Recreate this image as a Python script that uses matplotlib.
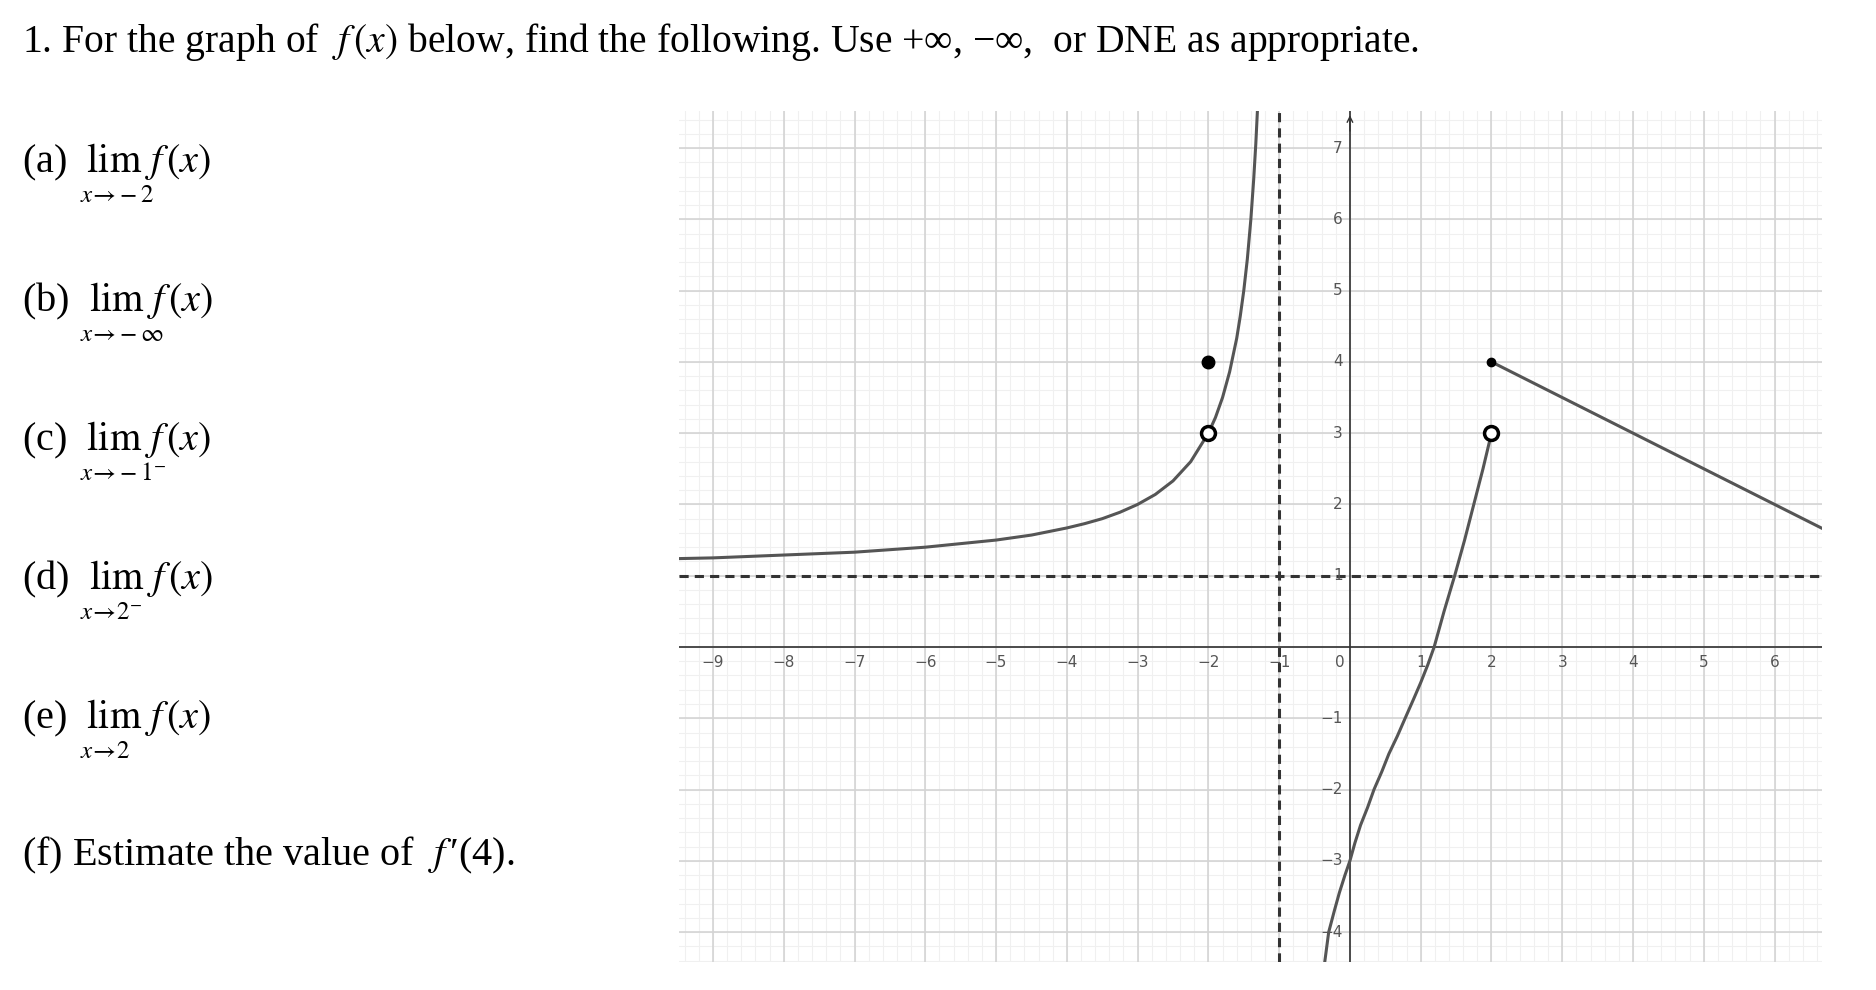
import matplotlib
matplotlib.use("Agg")
import matplotlib.pyplot as plt
import numpy as np

plt.rcParams['mathtext.fontset'] = 'stix'
plt.rcParams['font.family'] = ['Liberation Serif', 'DejaVu Serif']

# points
left_x = [-9.48, -9, -8, -7, -6, -5, -4.5, -4, -3.75, -3.5, -3.25, -3, -2.75, -2.5, -2.25, -2, -1.9, -1.8,
          -1.7, -1.6, -1.55, -1.5, -1.45, -1.4, -1.36, -1.33, -1.3]
left_y = [1.24, 1.25, 1.29, 1.33, 1.4, 1.5, 1.57, 1.67, 1.73, 1.8, 1.89, 2.0, 2.14, 2.33, 2.6, 3.0, 3.22, 3.5,
          3.86, 4.33, 4.64, 5.0, 5.44, 6.0, 6.56, 7.06, 7.67]
mid_x = [-0.36, -0.3, -0.22, -0.15, -0.07, 0, 0.07, 0.15, 0.25, 0.34, 0.45, 0.55, 0.67, 0.78, 0.9, 1.0, 1.1, 1.19,
         1.33, 1.48, 1.62, 1.75, 1.88, 2.0]
mid_y = [-4.45, -4.0, -3.7, -3.45, -3.2, -3.0, -2.75, -2.5, -2.25, -2.0, -1.75, -1.5, -1.25, -1.0, -0.73, -0.5,
         -0.25, 0.0, 0.5, 1.0, 1.5, 2.0, 2.5, 3.0]
line_x = [2, 6.7]
line_y = [4, 1.65]
closed_pts = [(-2, 4, 9), (2, 4, 6)]
open_pts = [(-2, 3), (2, 3)]
asym_x = -1
asym_y = 1

fig = plt.figure(figsize=(18.76, 9.9), dpi=100)

# text part
fig.text(22/1876, 1-42/990, r"1. For the graph of  $f\,(x)$ below, find the following. Use +∞, −∞,  or DNE as appropriate.",
         fontsize=28.5, va='center')
items = [("(a)", r"$x\!\rightarrow\!-2$"), ("(b)", r"$x\!\rightarrow\!-\infty$"), ("(c)", r"$x\!\rightarrow\!-1^{-}$"),
         ("(d)", r"$x\!\rightarrow\!2^{-}$"), ("(e)", r"$x\!\rightarrow\!2$")]
for i, (lab, sub) in enumerate(items):
    yy = 162 + i*139
    fig.text(22/1876, 1-yy/990, lab + r"  $\mathrm{lim}\ f\,(x)$", fontsize=29, va='center')
    fig.text(80/1876, 1-(yy+34)/990, sub, fontsize=18, va='center')
fig.text(22/1876, 1-855/990, r"(f) Estimate the value of  $f\,$′(4).", fontsize=29, va='center')

ax = fig.add_axes([679/1876, 28/990, (1822-679)/1876, (962-111)/990])
ax.set_xlim(-9.48, 6.67)
ax.set_ylim(-4.42, 7.52)
for s in ax.spines.values():
    s.set_visible(False)
ax.set_xticks([]); ax.set_yticks([])

for v in np.arange(-9.4, 6.7, 0.2):
    ax.axvline(v, color='#f0f0f0', lw=0.8, zorder=0)
for v in np.arange(-4.4, 7.6, 0.2):
    ax.axhline(v, color='#f0f0f0', lw=0.8, zorder=0)
for v in range(-9, 7):
    ax.axvline(v, color='#d4d4d4', lw=1.2, zorder=0)
for v in range(-4, 8):
    ax.axhline(v, color='#d4d4d4', lw=1.2, zorder=0)

ax.axhline(0, color='#333333', lw=1.2, zorder=1)
ax.axvline(0, color='#333333', lw=1.2, zorder=1)
ax.annotate("", xy=(0, 7.5), xytext=(0, 7.2), arrowprops=dict(arrowstyle='->', color='#333333', lw=1))

for v in range(-9, 7):
    ax.text(v - (0.15 if v == 0 else 0), -0.22, str(v).replace('-', '−'), color='#555555', fontsize=11,
            family='DejaVu Sans', ha='center', va='center')
for v in range(-4, 8):
    if v != 0:
        ax.text(-0.1, v, str(v).replace('-', '−'), color='#555555', fontsize=11,
                family='DejaVu Sans', ha='right', va='center')

ax.axvline(asym_x, color='#333333', lw=2.2, ls=(0, (3, 2)), zorder=2)
ax.axhline(asym_y, color='#333333', lw=2.2, ls=(0, (3, 2)), zorder=2)

ax.plot(left_x, left_y, color='#555555', lw=2.2, zorder=3)
ax.plot(mid_x, mid_y, color='#555555', lw=2.2, zorder=3)
ax.plot(line_x, line_y, color='#555555', lw=2.2, zorder=3)
for x, y, s in closed_pts:
    ax.plot(x, y, 'o', color='black', ms=s, zorder=4)
for x, y in open_pts:
    ax.plot(x, y, 'o', mfc='white', mec='black', mew=2.5, ms=10, zorder=4)

fig.savefig("out.png")
